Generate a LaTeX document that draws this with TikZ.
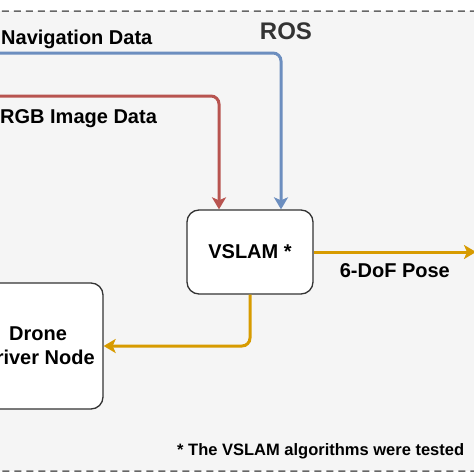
\documentclass[tikz,border=0pt]{standalone}
\usepackage{fontspec}
\setmainfont{Liberation Sans}
\usetikzlibrary{arrows.meta, positioning}
\definecolor{rosblue}{HTML}{6C8EBF}
\definecolor{rosred}{HTML}{B85450}
\definecolor{rosorange}{HTML}{D79B00}
\definecolor{rosgrey}{HTML}{F5F5F5}
\definecolor{rosframe}{HTML}{666666}
\definecolor{rostext}{HTML}{333333}

\begin{document}
\begin{tikzpicture}[x=1pt, y=-1pt, font=\fontsize{20}{24}\selectfont\bfseries,
    block/.style={draw=rostext, fill=white, line width=1.3pt, rounded corners=12pt, align=center},
    flow/.style={line width=3pt, rounded corners=8pt, -{Stealth[length=12pt, width=14pt, inset=3pt]}}]
    \useasboundingbox (0,0) rectangle (474,474);
    \clip (0,0) rectangle (474,474);
    \draw[rosframe, fill=rosgrey, line width=1.5pt, dash pattern=on 7pt off 5pt, rounded corners=10pt] (-20,11) rectangle (500,471);

    \node (ros) [anchor=base, text=rostext, font=\fontsize{24}{28}\selectfont\bfseries] at (286,39) {ROS};
    \node (navlabel) [anchor=base west, inner sep=0pt] at (1,44) {Navigation Data};
    \node (rgblabel) [anchor=base west, inner sep=0pt] at (0,123) {RGB Image Data};
    \node (vslam) [block, minimum width=126pt, minimum height=84pt] at (250,252) {VSLAM *};
    \node (driver) [block, minimum width=130pt, minimum height=126pt] at (38,346) {Drone\\Driver Node};
    \node (note) [anchor=base west, inner sep=0pt, font=\fontsize{16.5}{20}\selectfont\bfseries] at (177,455) {* The VSLAM algorithms were tested};

    \coordinate (navsrc) at (-10,53);
    \coordinate (rgbsrc) at (-10,96);
    \coordinate (posedst) at (476,252);

    \draw[flow, rosblue] (navsrc) -| ([xshift=31pt]vslam.north);
    \draw[flow, rosred] (rgbsrc) -| ([xshift=-31pt]vslam.north);
    \draw[flow, rosorange] (vslam) -- (posedst) node[midway, below=7pt, text=black] (pose) {6-DoF Pose};
    \draw[flow, rosorange] (vslam.south) |- (driver);
\end{tikzpicture}
\end{document}
